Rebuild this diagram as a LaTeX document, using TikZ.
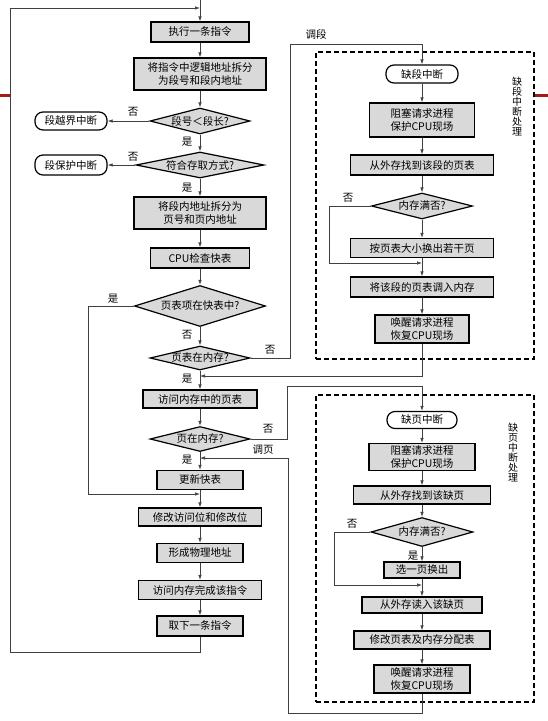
\documentclass[tikz,border=0pt]{standalone}
\usepackage{fontspec}
\setmainfont{Noto Sans CJK SC}
\usetikzlibrary{shapes.geometric,arrows.meta}
\definecolor{boxgray}{HTML}{D9D9D9}
\definecolor{linegray}{HTML}{404040}
\definecolor{slidered}{HTML}{A31A1A}
\newcommand\fs{\fontsize{10.5}{13}\selectfont}
\newcommand\vfs{\fontsize{10}{10}\selectfont}
\begin{document}
\begin{tikzpicture}[x=1pt,y=-1pt]
\tikzset{
  sz/.style 2 args={minimum width=#1pt, minimum height=#2pt},
  box/.style={draw=black, line width=1.2pt, fill=boxgray, inner sep=0pt, align=center, font=\fs},
  term/.style={draw=black, line width=1.2pt, fill=white, rounded corners=8pt, inner sep=0pt, font=\fs},
  dia/.style={diamond, draw=black, line width=1.2pt, fill=boxgray, inner sep=0pt, label={[font=\fs, inner sep=0pt]center:#1}},
  flow/.style={draw=linegray, line width=0.7pt, -{Latex[length=5pt,width=3.5pt]}},
  lbl/.style={inner sep=0pt, font=\fs},
  vlbl/.style={inner sep=0pt, font=\vfs, align=center},
  dbox/.style={draw=black, line width=1.3pt, dash pattern=on 5pt off 3pt, inner sep=0pt},
  redmark/.style={draw=slidered, line width=3pt},
}
\useasboundingbox (0,0) rectangle (548,721);
% slide marks
\coordinate (mL1) at (0,95); \coordinate (mL2) at (10,95);
\coordinate (mR1) at (535,95); \coordinate (mR2) at (548,95);
\draw[redmark] (mL1) -- (mL2);
\draw[redmark] (mR1) -- (mR2);

% dashed frames
\node[dbox, sz={218}{307}] (f1) at (425,205.5) {};
\node[dbox, sz={218}{307}] (f2) at (425,548.5) {};
\node[vlbl] (v1) at (517,107) {缺\\段\\中\\断\\处\\理};
\node[vlbl] (v2) at (513,453) {缺\\页\\中\\断\\处\\理};

% main column
\node[box, sz={98}{20}] (n1) at (200,32) {执行一条指令};
\node[box, sz={132}{32}] (n2) at (200,74) {将指令中逻辑地址拆分\\为段号和段内地址};
\node[dia={段号＜段长?}, sz={100}{26}] (d1) at (200,121) {};
\node[term, sz={72}{18}] (t1) at (71,121) {段越界中断};
\node[dia={符合存取方式?}, sz={128}{26}] (d2) at (200,165) {};
\node[term, sz={72}{20}] (t2) at (71,165) {段保护中断};
\node[box, sz={132}{32}] (n3) at (200,213) {将段内地址拆分为\\页号和页内地址};
\node[box, sz={99}{20}] (n4) at (200,258) {CPU检查快表};
\node[dia={页表项在快表中?}, sz={131}{41}] (d3) at (200,306) {};
\node[dia={页表在内存?}, sz={100}{24}] (d4) at (200,358) {};
\node[box, sz={114}{18}] (n5) at (200,399) {访问内存中的页表};
\node[dia={页在内存?}, sz={100}{25}] (d5) at (200,439) {};
\node[box, sz={86}{19}] (n6) at (200,480) {更新快表};
\node[box, sz={123}{18}] (n7) at (200,517) {修改访问位和修改位};
\node[box, sz={86}{19}] (n8) at (200,553) {形成物理地址};
\node[box, sz={123}{19}] (n9) at (200,590) {访问内存完成该指令};
\node[box, sz={86}{20}] (n10) at (200,626) {取下一条指令};

% upper right: segment fault
\node[term, sz={72}{18}] (s1) at (422,74) {缺段中断};
\node[box, sz={105}{34}] (s2) at (422,120) {阻塞请求进程\\保护CPU现场};
\node[box, sz={143}{20}] (s3) at (422,165) {从外存找到该段的页表};
\node[dia={内存满否?}, sz={101}{26}] (sd) at (422,206) {};
\node[box, sz={143}{19}] (s4) at (422,248) {按页表大小换出若干页};
\node[box, sz={143}{20}] (s5) at (422,287) {将该段的页表调入内存};
\node[box, sz={94}{28}] (s6) at (422,329) {唤醒请求进程\\恢复CPU现场};

% lower right: page fault
\node[term, sz={70}{17}] (p1) at (422,420) {缺页中断};
\node[box, sz={106}{27}] (p2) at (422,457) {阻塞请求进程\\保护CPU现场};
\node[box, sz={137}{18}] (p3) at (422,495) {从外存找到该缺页};
\node[dia={内存满否?}, sz={102}{29}] (pd) at (422,532) {};
\node[box, sz={76}{16}] (p4) at (422,570) {选一页换出};
\node[box, sz={120}{16}] (p5) at (422,605) {从外存读入该缺页};
\node[box, sz={136}{18}] (p6) at (422,640) {修改页表及内存分配表};
\node[box, sz={96}{28}] (p7) at (422,679) {唤醒请求进程\\恢复CPU现场};

% coordinates for bends and joins
\coordinate (top) at (200,0);
\coordinate (j0) at (200,8);
\coordinate (L0) at (10,652);
\coordinate (c1) at (88,306);
\coordinate (j1) at (200,494);
\coordinate (c2) at (290,44);
\coordinate (j2) at (200,376);
\coordinate (c3) at (329,263);
\coordinate (j3) at (422,263);
\coordinate (c4) at (287,386);
\coordinate (c5) at (334,585);
\coordinate (j4) at (422,585);
\coordinate (c6) at (288,713);
\coordinate (j5) at (200,458);

% main flow
\draw[flow] (top) -- (n1.north);
\draw[flow] (n1.south) -- (n2.north);
\draw[flow] (n2.south) -- (d1.north);
\draw[flow] (d1.south) -- (d2.north);
\draw[flow] (d2.south) -- (n3.north);
\draw[flow] (n3.south) -- (n4.north);
\draw[flow] (n4.south) -- (d3.north);
\draw[flow] (d3.south) -- (d4.north);
\draw[flow] (d4.south) -- (n5.north);
\draw[flow] (n5.south) -- (d5.north);
\draw[flow] (d5.south) -- (n6.north);
\draw[flow] (n6.south) -- (n7.north);
\draw[flow] (n7.south) -- (n8.north);
\draw[flow] (n8.south) -- (n9.north);
\draw[flow] (n9.south) -- (n10.north);
\draw[flow] (d1.west) -- (t1.east);
\draw[flow] (d2.west) -- (t2.east);
\draw[flow] (n10.south) |- (L0) |- (j0);
\draw[flow] (d3.west) -- (c1) |- (j1);
\draw[flow] (d4.east) -| (c2) -| (s1.north);
\draw[flow] (s6.south) |- (j2);
\draw[flow] (d5.east) -| (c4) -| (p1.north);
\draw[flow] (p7.south) |- (c6) |- (j5);

% segment fault flow
\draw[flow] (s1.south) -- (s2.north);
\draw[flow] (s2.south) -- (s3.north);
\draw[flow] (s3.south) -- (sd.north);
\draw[flow] (sd.south) -- (s4.north);
\draw[flow] (s4.south) -- (s5.north);
\draw[flow] (s5.south) -- (s6.north);
\draw[flow] (sd.west) -| (c3) -- (j3);

% page fault flow
\draw[flow] (p1.south) -- (p2.north);
\draw[flow] (p2.south) -- (p3.north);
\draw[flow] (p3.south) -- (pd.north);
\draw[flow] (pd.south) -- (p4.north);
\draw[flow] (p4.south) -- (p5.north);
\draw[flow] (p5.south) -- (p6.north);
\draw[flow] (p6.south) -- (p7.north);
\draw[flow] (pd.west) -| (c5) -- (j4);

% labels
\node[lbl] (l1) at (133,112) {否};
\node[lbl] (l2) at (133,157) {否};
\node[lbl] (l3) at (187,142) {是};
\node[lbl] (l4) at (187,188) {是};
\node[lbl] (l5) at (113,299) {是};
\node[lbl] (l6) at (187,335) {否};
\node[lbl] (l7) at (270,350) {否};
\node[lbl] (l8) at (187,379) {是};
\node[lbl] (l9) at (268,429) {否};
\node[lbl] (l10) at (263,450) {调页};
\node[lbl] (l11) at (187,460) {是};
\node[lbl] (l12) at (316,34) {调段};
\node[lbl] (l13) at (348,198) {否};
\node[lbl] (l14) at (352,524) {否};
\node[lbl] (l15) at (413,556) {是};
\end{tikzpicture}
\end{document}
